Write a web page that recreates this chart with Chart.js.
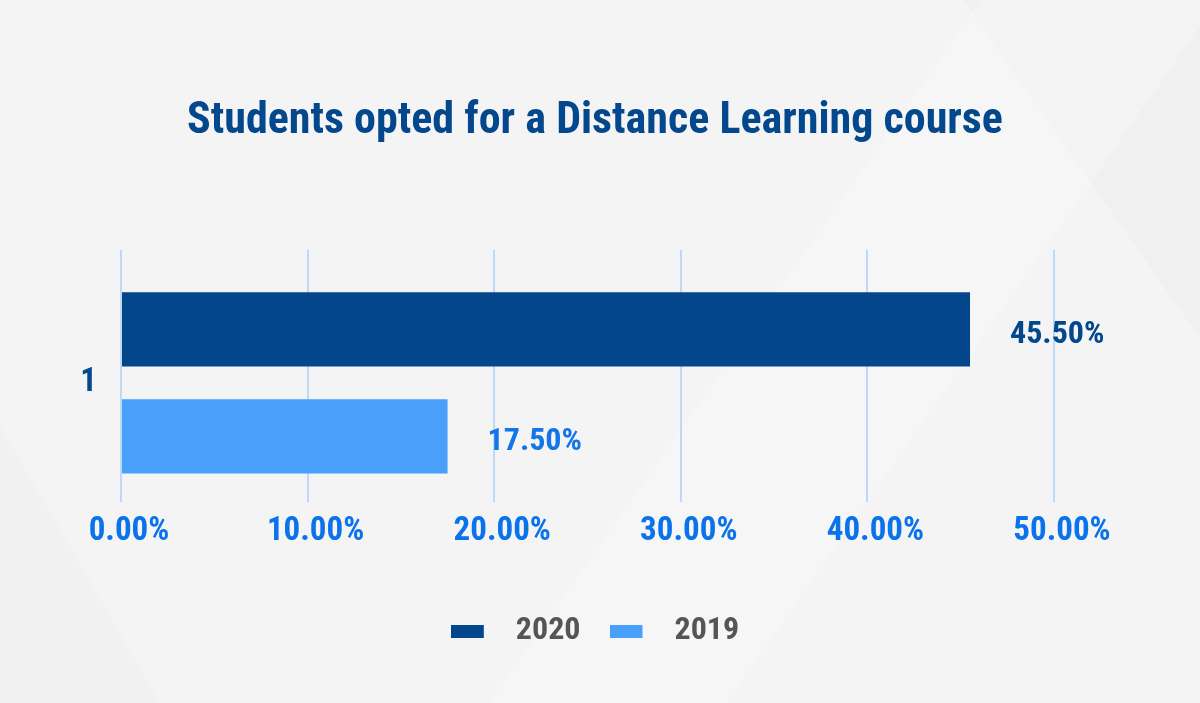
<!DOCTYPE html>
<html><head><meta charset="utf-8">
<script src="https://cdn.jsdelivr.net/npm/chart.js@4.4.1/dist/chart.umd.min.js"></script>
<style>
html,body{margin:0;padding:0;width:1200px;height:703px;overflow:hidden;}
body{background:
 linear-gradient(125deg, rgba(255,255,255,0) 0%, rgba(255,255,255,0) 58%, rgba(255,255,255,0.22) 58%, rgba(255,255,255,0.22) 72%, rgba(255,255,255,0) 72%),
 linear-gradient(235deg, rgba(232,232,232,0.3) 0%, rgba(232,232,232,0.3) 14%, rgba(255,255,255,0) 14%),
 linear-gradient(60deg, rgba(236,236,236,0.35) 0%, rgba(236,236,236,0.35) 10%, rgba(255,255,255,0) 10%),
 #f4f4f4;}
#wrap{position:relative;width:1200px;height:703px;}
</style></head><body><div id="wrap"><canvas id="c" width="1200" height="703"></canvas></div>
<script>
const categories = ['1'];
const seriesNames = ['2020', '2019'];
const values2020 = [0.455];
const values2019 = [0.175];
const axisMin = 0, axisMax = 0.5, axisStep = 0.1;
const titleText = 'Students opted for a Distance Learning course';

const FAMILY = "'Roboto Condensed','Liberation Sans Narrow','DejaVu Sans Condensed','Arial Narrow',Roboto,sans-serif";
const C2020 = '#03468c', C2019 = '#48a0fb';
const GRID = '#bcd9f7';

function swatch(color){
  const cv = document.createElement('canvas');
  cv.width = 49; cv.height = 13;
  const g = cv.getContext('2d');
  g.fillStyle = color; g.fillRect(0,0,33,13);
  return cv;
}
const swatches = [swatch(C2020), swatch(C2019)];
const pct = v => (v*100).toFixed(2) + '%';

const dataLabels = {
  id: 'dataLabels',
  afterDatasetsDraw(chart){
    const ctx = chart.ctx;
    const colors = ['#03478c', '#1276ea'];
    chart.data.datasets.forEach((ds, i) => {
      const meta = chart.getDatasetMeta(i);
      meta.data.forEach((el, j) => {
        ctx.save();
        ctx.font = 'bold 32px ' + FAMILY;
        ctx.fillStyle = colors[i];
        ctx.textAlign = 'left';
        ctx.textBaseline = 'middle';
        ctx.fillText(pct(ds.data[j]), el.x + 40, el.y + 6);
        ctx.restore();
      });
    });
  }
};

new Chart(document.getElementById('c'), {
  type: 'bar',
  data: {
    labels: categories,
    datasets: [
      {label: seriesNames[0], data: values2020, backgroundColor: C2020, categoryPercentage: 0.897, barPercentage: 0.695},
      {label: seriesNames[1], data: values2019, backgroundColor: C2019, categoryPercentage: 0.897, barPercentage: 0.695}
    ]
  },
  options: {
    indexAxis: 'y',
    responsive: false,
    animation: false,
    devicePixelRatio: 1,
    layout: {padding: {left: 0, right: 10, top: 0, bottom: 46}},
    scales: {
      x: {
        type: 'linear', position: 'bottom', min: axisMin, max: axisMax,
        ticks: {stepSize: axisStep, callback: v => pct(v), color: '#0a72ea', font: {family: FAMILY, size: 33, weight: 'bold'}, padding: 10, maxRotation: 0, labelOffset: 8},
        grid: {color: GRID, lineWidth: 2, drawTicks: false},
        border: {display: false},
        afterFit: s => { s.height = 84; }
      },
      x2: {
        type: 'linear', axis: 'x', position: 'top', min: axisMin, max: axisMax,
        ticks: {display: false, stepSize: axisStep},
        grid: {color: GRID, lineWidth: 2, drawOnChartArea: false, drawTicks: true, tickLength: 14},
        border: {display: false}
      },
      y: {
        type: 'category',
        grid: {display: false, drawTicks: false},
        border: {display: false},
        ticks: {color: '#03478c', font: {family: FAMILY, size: 33, weight: 'bold'}, padding: 24},
        afterFit: s => { s.width = 121; }
      },
      yRight: {
        type: 'category', axis: 'y', position: 'right',
        grid: {display: false, drawTicks: false},
        border: {display: false},
        ticks: {display: false},
        afterFit: s => { s.width = 136; }
      }
    },
    plugins: {
      title: {
        display: true, text: titleText, color: '#03478c',
        font: {family: FAMILY, size: 44, weight: 'bold'},
        padding: {top: 96, bottom: 101}
      },
      legend: {
        position: 'bottom',
        labels: {
          usePointStyle: true, pointStyleWidth: 49, boxHeight: 13, padding: 29,
          color: '#555555', font: {family: FAMILY, size: 32, weight: 'bold'},
          generateLabels: chart => {
            const items = Chart.defaults.plugins.legend.labels.generateLabels(chart);
            items.forEach((it, i) => { it.pointStyle = swatches[i]; it.lineWidth = 0; it.strokeStyle = 'rgba(0,0,0,0)'; });
            return items;
          }
        }
      },
      tooltip: {enabled: false}
    }
  },
  plugins: [dataLabels]
});
</script>
</body></html>
